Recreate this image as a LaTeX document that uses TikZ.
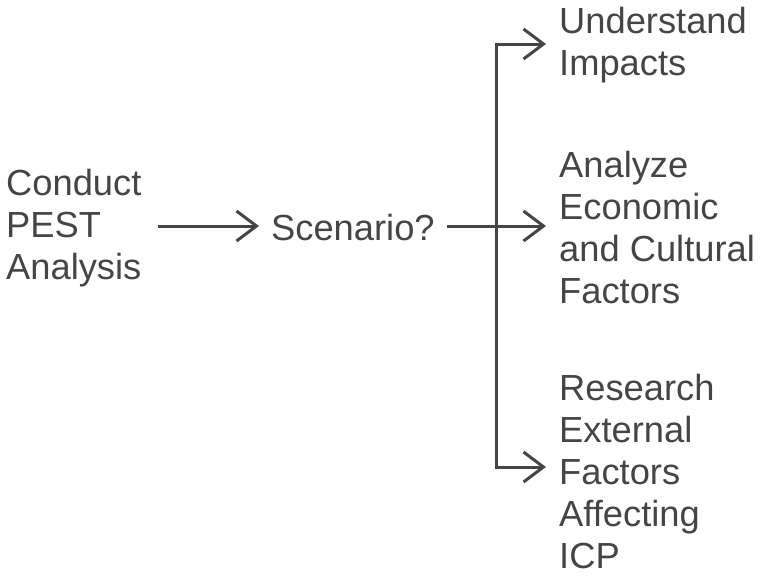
\documentclass[tikz,border=0pt]{standalone}
\usepackage{fontspec}
\setmainfont{Liberation Sans}
\usetikzlibrary{arrows.meta}
\definecolor{ink}{HTML}{454545}
\begin{document}
\begin{tikzpicture}[x=1pt,y=-1pt,
  lbl/.style={font=\fontsize{36.3}{42}\selectfont, text=ink, align=left, anchor=west, inner sep=0pt},
  arr/.style={draw=ink, line width=3pt, -{Straight Barb[length=20pt,width=30pt,line width=3pt]}}]
\useasboundingbox (0,0) rectangle (768,579);
\node[lbl] (conduct) at (6,228) {Conduct\\PEST\\Analysis};
\node[lbl] (scen) at (271,228) {Scenario?};
\node[lbl] (und) at (559,45) {Understand\\Impacts};
\node[lbl] (ana) at (559,228) {Analyze\\Economic\\and Cultural\\Factors};
\node[lbl] (res) at (559,472) {Research\\External\\Factors\\Affecting\\ICP};
\coordinate (br) at (496,226);
\coordinate (ut) at (546,44);
\coordinate (rt) at (546,467);
\draw[arr, shorten <=16pt, shorten >=12pt] (conduct.east |- br) -- (scen.west |- br);
\draw[arr, shorten <=12pt, shorten >=13pt] (scen.east |- br) -- (ana.west |- br);
\draw[arr] (br) |- (ut);
\draw[arr] (br) |- (rt);
\end{tikzpicture}
\end{document}
